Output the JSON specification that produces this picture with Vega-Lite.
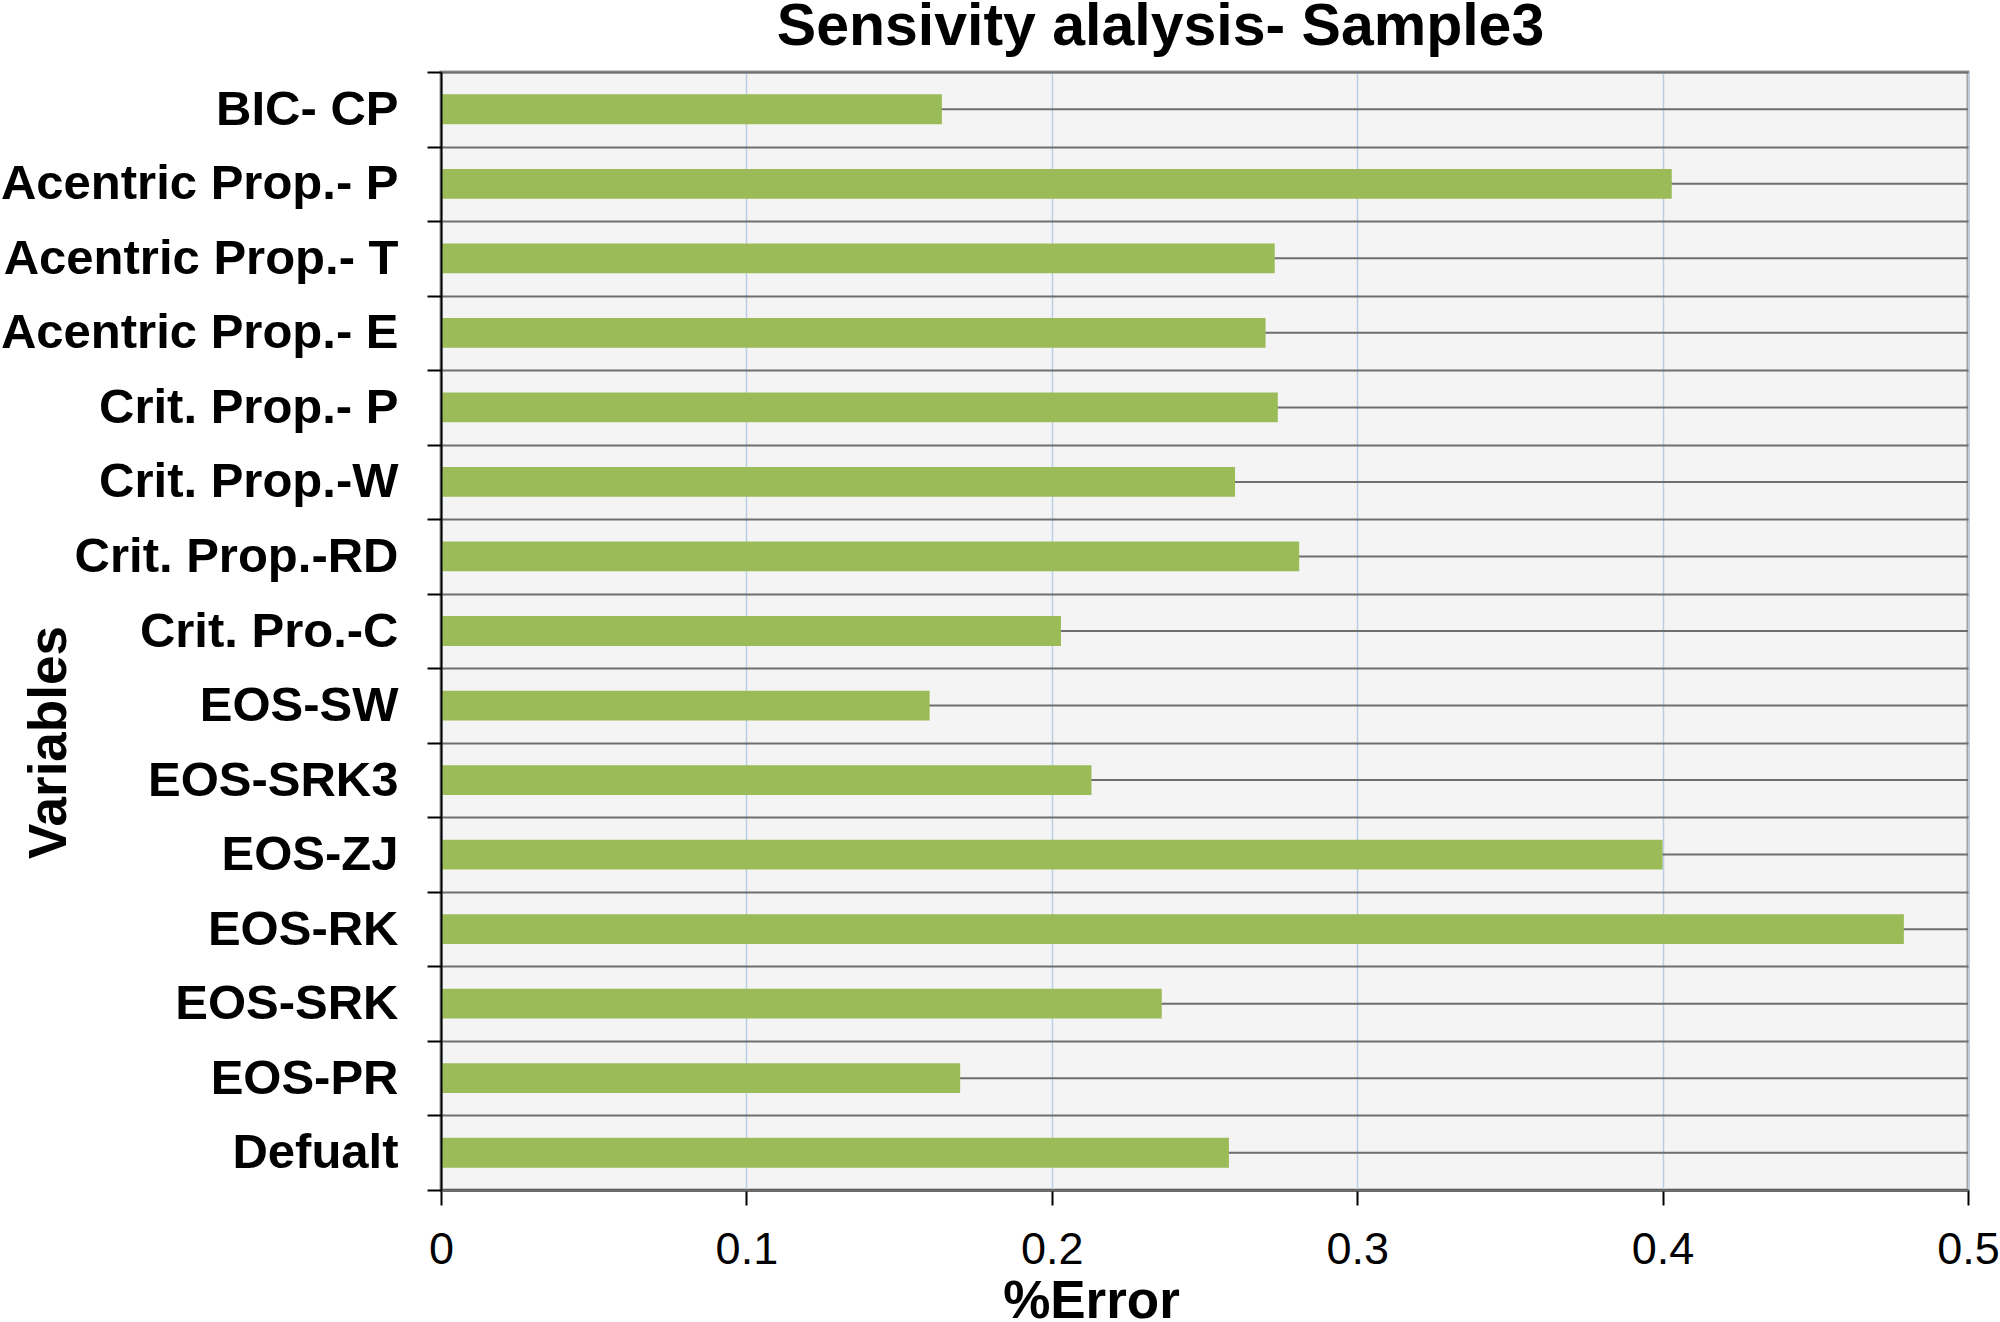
{
  "$schema": "https://vega.github.io/schema/vega-lite/v6.json",
  "width": 1527,
  "height": 1118,
  "autosize": "none",
  "padding": {"left": 441, "top": 72, "right": 32, "bottom": 132},
  "background": "white",
  "config": {
    "font": "Liberation Sans",
    "view": {"fill": "#f4f4f4", "stroke": "#9a9a9a", "strokeWidth": 3}
  },
  "title": {
    "text": "Sensivity alalysis- Sample3",
    "fontSize": 59,
    "fontWeight": "bold",
    "color": "black",
    "anchor": "middle",
    "frame": "group",
    "dx": -44,
    "dy": 84,
    "baseline": "bottom",
    "offset": 16
  },
  "data": {
    "values": [
      {"Variable": "BIC- CP", "Error": 0.164},
      {"Variable": "Acentric Prop.- P", "Error": 0.403},
      {"Variable": "Acentric Prop.- T", "Error": 0.273},
      {"Variable": "Acentric Prop.- E", "Error": 0.270},
      {"Variable": "Crit. Prop.- P", "Error": 0.274},
      {"Variable": "Crit. Prop.-W", "Error": 0.260},
      {"Variable": "Crit. Prop.-RD", "Error": 0.281},
      {"Variable": "Crit. Pro.-C", "Error": 0.203},
      {"Variable": "EOS-SW", "Error": 0.160},
      {"Variable": "EOS-SRK3", "Error": 0.213},
      {"Variable": "EOS-ZJ", "Error": 0.400},
      {"Variable": "EOS-RK", "Error": 0.479},
      {"Variable": "EOS-SRK", "Error": 0.236},
      {"Variable": "EOS-PR", "Error": 0.170},
      {"Variable": "Defualt", "Error": 0.258}
    ]
  },
  "encoding": {
    "y": {
      "field": "Variable",
      "type": "nominal",
      "sort": null,
      "scale": {"paddingInner": 0, "paddingOuter": 0},
      "axis": {
        "title": "Variables",
        "titleFontSize": 53,
        "titleFontWeight": "bold",
        "titleColor": "black",
        "titleAngle": -90,
        "titleBaseline": "alphabetic",
        "titleAlign": "center",
        "titleX": -376,
        "titleY": 670,
        "labelFontSize": 49,
        "labelFontWeight": "bold",
        "labelColor": "black",
        "labelPadding": 29,
        "labelLimit": 0,
        "tickBand": "extent",
        "tickSize": 14,
        "tickColor": "black",
        "tickWidth": 2,
        "domainColor": "black",
        "domainWidth": 2,
        "grid": true,
        "gridColor": "#6e6e6e",
        "gridWidth": 2,
        "zindex": 1
      }
    }
  },
  "layer": [
    {
      "mark": {"type": "rule", "color": "#6e6e6e", "strokeWidth": 2},
      "encoding": {
        "x": {"datum": 0, "type": "quantitative"},
        "x2": {"datum": 0.5}
      }
    },
    {
      "mark": {"type": "bar", "color": "#9bbb59", "height": {"band": 0.4}},
      "encoding": {
        "x": {
          "field": "Error",
          "type": "quantitative",
          "scale": {"domain": [0, 0.5], "nice": false},
          "axis": {
            "title": "%Error",
            "titleFontSize": 53,
            "titleFontWeight": "bold",
            "titleColor": "black",
            "titleBaseline": "alphabetic",
            "titleX": 650,
            "titleY": 127,
            "values": [0, 0.1, 0.2, 0.3, 0.4, 0.5],
            "format": ".1~f",
            "labelFontSize": 45,
            "labelColor": "black",
            "labelPadding": 22,
            "labelFlush": false,
            "tickSize": 15,
            "tickColor": "black",
            "tickWidth": 2,
            "domainColor": "black",
            "domainWidth": 2,
            "grid": true,
            "gridColor": "#b9cde5",
            "gridWidth": 1.5
          }
        }
      }
    }
  ]
}
